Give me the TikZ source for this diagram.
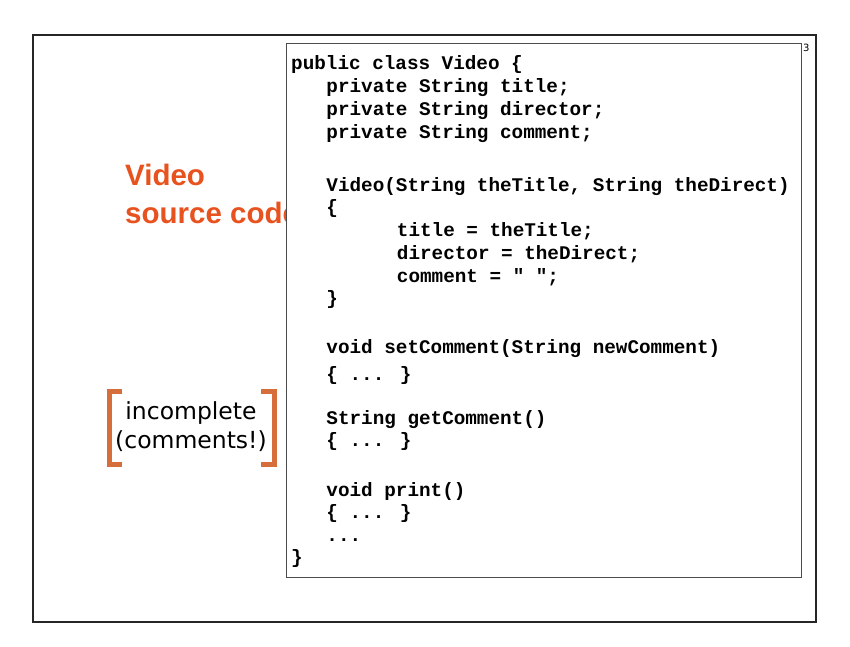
\documentclass[tikz,border=0pt]{standalone}
\usepackage{fontspec}
\setmainfont{DejaVu Sans}
\newfontfamily\codefont{Liberation Mono}
\newfontfamily\arialfont{Liberation Sans}
\definecolor{hd}{RGB}{232,82,30}
\definecolor{br}{RGB}{214,110,60}
\begin{document}
\begin{tikzpicture}[x=1pt,y=-1pt,
  code/.style={anchor=base west,inner sep=0pt,font=\codefont\bfseries\fontsize{19.3}{19.3}\selectfont},
  head/.style={anchor=base west,inner sep=0pt,text=hd,font=\arialfont\bfseries\fontsize{29.5}{29.5}\selectfont},
  brk/.style={draw=br,line width=5pt}]
\useasboundingbox (0,0) rectangle (850,646);
\fill[white] (0,0) rectangle (850,646);
\draw[line width=1.5pt,black!85] (33,35) rectangle (816,622);
\node[anchor=north west,inner sep=0pt,font=\fontsize{10}{10}\selectfont] (pg) at (803,44) {3};
\node[head] (h1) at (125,185) {Video};
\node[head] (h2) at (125,223) {source code};
\draw[fill=white,draw=black!70,line width=0.8pt] (286,43) rectangle (801,577);
\node[font=\fontsize{23.5}{29}\selectfont,align=center,inner sep=0pt] (inc) at (191,427) {incomplete\\(comments!)};
\draw[brk] (122,391) -- (109,391) -- (109,464) -- (122,464);
\draw[brk] (261,391) -- (274,391) -- (274,464) -- (261,464);
\def\cw{11.75}
\foreach \n/\y/\t/\i in {
 c1/69/{public class Video \{}/0,
 c2/92/{private String title;}/3,
 c3/115/{private String director;}/3,
 c4/138/{private String comment;}/3,
 c5/191/{Video(String theTitle, String theDirect)}/3,
 c6/213/{\{}/3,
 c7/236/{title = theTitle;}/9,
 c8/259/{director = theDirect;}/9,
 c9/282/{comment = " ";}/9,
 c10/304/{\}}/3,
 c11/353/{void setComment(String newComment)}/3,
 c12/380/{\{ ... \}}/3,
 c13/424/{String getComment()}/3,
 c14/446/{\{ ... \}}/3,
 c15/496/{void print()}/3,
 c16/518/{\{ ... \}}/3,
 c17/541/{...}/3,
 c18/563/{\}}/0}
 \node[code] (\n) at (291+\i*\cw,\y) {\t};
\end{tikzpicture}
\end{document}
